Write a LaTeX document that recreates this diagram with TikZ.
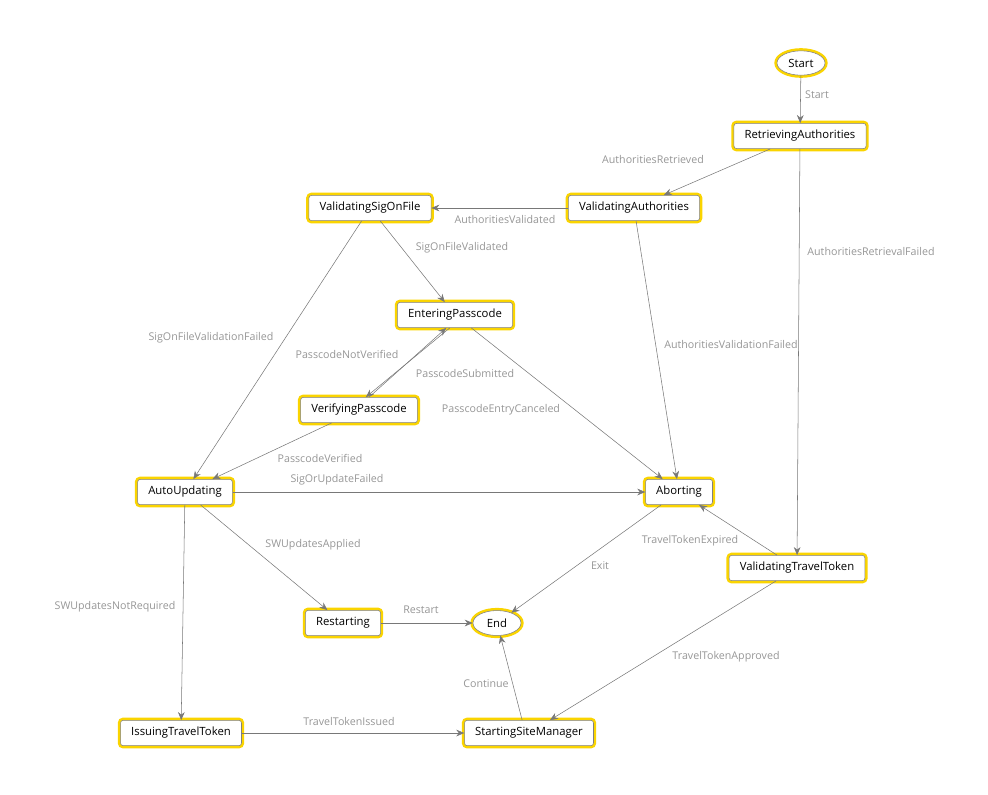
\documentclass[tikz,border=0pt]{standalone}
\usepackage{fontspec}
\setmainfont{Open Sans}
\usetikzlibrary{arrows.meta,shapes.geometric}
\definecolor{hilite}{RGB}{250,212,0}
\definecolor{edgegray}{RGB}{120,120,120}
\definecolor{lblgray}{RGB}{150,150,150}
\begin{document}
\begin{tikzpicture}[
	x=0.75pt, y=-0.75pt,
	state/.style={
		rectangle,
		rounded corners=2pt,
		draw=gray,
		fill=white,
		thin,
		preaction={draw=hilite, line width=4pt},
		inner xsep=8pt,
		minimum height=19pt,
		font=\fontsize{8.5}{10}\selectfont},
	terminal/.style={
		state,
		ellipse,
		inner xsep=2pt,
		minimum height=18pt,
		minimum width=36pt},
	lbl/.style={font=\fontsize{8}{10}\selectfont, text=lblgray, inner sep=1pt},
	myarrow/.style={-{Stealth[length=6pt,width=5pt]}, draw=edgegray, thin}
	]
	\useasboundingbox (0,0) rectangle (988,794);
	\node[terminal] (st) at (801,63) {Start};
	\node[state] (ra) at (800,136) {RetrievingAuthorities};
	\node[state] (va) at (634,208) {ValidatingAuthorities};
	\node[state] (vsf) at (370,208) {ValidatingSigOnFile};
	\node[state] (ep) at (455,315) {EnteringPasscode};
	\node[state] (vp) at (359,410) {VerifyingPasscode};
	\node[state] (au) at (185,492) {AutoUpdating};
	\node[state] (ab) at (679,492) {Aborting};
	\node[state] (vtt) at (797,568) {ValidatingTravelToken};
	\node[state] (rs) at (343,623) {Restarting};
	\node[terminal] (en) at (497,623) {End};
	\node[state] (itt) at (181,733) {IssuingTravelToken};
	\node[state] (ssm) at (529,733) {StartingSiteManager};
	
	\foreach \i/\j/\txt/\lx/\ly in {% from/to/label/label position
		st/ra/Start/817/95,
		ra/va/AuthoritiesRetrieved/653/159,
		va/vsf/AuthoritiesValidated/505/219,
		vsf/ep/SigOnFileValidated/462/248,
		vsf/au/SigOnFileValidationFailed/211/338,
		va/ab/AuthoritiesValidationFailed/731/344,
		ra/vtt/AuthoritiesRetrievalFailed/871/251,
		ep.-112/vp.62/PasscodeSubmitted/465/373,
		vp.52/ep.-124/PasscodeNotVerified/347/354,
		ep/ab/PasscodeEntryCanceled/501/410,
		vp/au/PasscodeVerified/320/458,
		au/ab/SigOrUpdateFailed/337/480,
		au/rs/SWUpdatesApplied/313/545,
		au/itt/SWUpdatesNotRequired/115/607,
		vtt/ab/TravelTokenExpired/690/541,
		ab/en/Exit/600/566,
		rs/en/Restart/421/610,
		ssm.118/en/Continue/486/684,
		itt/ssm/TravelTokenIssued/349/721,
		vtt/ssm/TravelTokenApproved/726/657}
	\draw[myarrow] (\i) -- (\j) node[lbl, at={(\lx,\ly)}] {\txt};
\end{tikzpicture}
\end{document}
